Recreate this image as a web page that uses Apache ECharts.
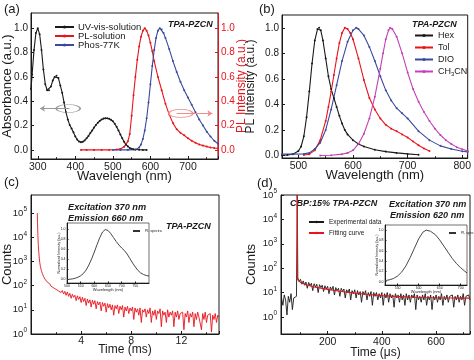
<!DOCTYPE html>
<html><head><meta charset="utf-8">
<script src="https://cdn.jsdelivr.net/npm/echarts@6/dist/echarts.min.js"></script>
<style>html,body{margin:0;padding:0;background:#fff}#c{width:474px;height:360px}</style>
</head><body><div id="c"></div><script>
// ---------- (a) ----------
const uvWl  = [282,285,290,295,300,305,310,315,320,325,330,335,340,345,350,355,360,365,370,375,380,385,390,395,400,405,410,415,420,425,430,435,440,445,450,455,460,465,470,475,480,485,490,495,500,505,510,515,520,525,530,535,540,545,550,555,560,570,580,590];
const uvAbs = [0.50,0.62,0.82,0.96,1.00,0.95,0.82,0.66,0.54,0.49,0.49,0.52,0.57,0.60,0.61,0.59,0.53,0.47,0.39,0.31,0.25,0.205,0.175,0.145,0.11,0.085,0.068,0.062,0.066,0.078,0.095,0.115,0.138,0.16,0.183,0.205,0.223,0.238,0.25,0.257,0.26,0.26,0.256,0.248,0.235,0.215,0.19,0.16,0.127,0.095,0.066,0.043,0.027,0.016,0.009,0.005,0.003,0.001,0,0];
const plWl  = [415,430,450,470,490,510,520,530,540,545,550,555,560,565,570,575,580,585,590,595,600,605,610,620,630,640,650,660,670,680,690,700,710,720,730,740,750,760,770,780];
const plInt = [0,0,0,0,0,0.003,0.008,0.025,0.07,0.13,0.28,0.45,0.60,0.74,0.85,0.93,0.98,1.0,0.98,0.94,0.88,0.81,0.73,0.60,0.49,0.38,0.29,0.22,0.17,0.14,0.12,0.095,0.075,0.058,0.045,0.035,0.027,0.02,0.015,0.012];
const phWl  = [500,520,540,560,570,575,580,585,590,595,600,605,610,615,620,625,630,635,640,650,660,670,680,690,700,710,720,730,740,750,760,770,780];
const phInt = [0,0,0,0.002,0.02,0.045,0.09,0.16,0.26,0.39,0.54,0.69,0.82,0.92,0.98,1.0,0.99,0.96,0.92,0.83,0.73,0.64,0.56,0.49,0.43,0.37,0.31,0.25,0.2,0.15,0.11,0.075,0.05];
const arrowL = [[385,0.34],[306,0.34]];
const ellL = [381,0.34];
const arrowR = [[670,0.30],[765,0.30]];
const ellR = [681,0.30];
// ---------- (b) ----------
const hexWl  = [470,480,490,500,505,510,515,520,525,530,535,538,541,545,550,555,560,565,570,575,580,585,590,600,610,620,640,660,680,700,720];
const hexInt = [0.002,0.004,0.01,0.035,0.07,0.15,0.3,0.5,0.72,0.9,0.99,1.0,0.98,0.9,0.76,0.62,0.52,0.45,0.38,0.31,0.25,0.2,0.165,0.12,0.09,0.07,0.045,0.03,0.02,0.012,0.006];
const tolWl  = [510,520,530,540,550,555,560,565,570,575,580,585,590,595,600,610,620,630,640,650,660,670,680,690,700,710,720,730,740];
const tolInt = [0.003,0.01,0.04,0.12,0.27,0.38,0.5,0.63,0.76,0.88,0.96,1.0,0.99,0.96,0.91,0.76,0.59,0.45,0.36,0.29,0.24,0.21,0.19,0.165,0.14,0.11,0.08,0.055,0.035];
const dioWl  = [470,490,510,520,530,540,550,560,570,580,590,600,606,610,620,630,640,650,660,670,680,690,700,720,740,760,780,800,810];
const dioInt = [0.01,0.01,0.012,0.02,0.05,0.1,0.2,0.36,0.55,0.74,0.89,0.98,1.0,0.99,0.94,0.85,0.74,0.62,0.51,0.43,0.37,0.33,0.29,0.19,0.12,0.075,0.05,0.033,0.028];
const chWl   = [540,560,580,590,600,610,620,630,640,650,655,660,665,668,672,680,690,700,710,720,730,740,750,760,770,780,790,800,810];
const chInt  = [0,0.002,0.01,0.02,0.04,0.09,0.17,0.29,0.46,0.68,0.8,0.91,0.98,1.0,0.99,0.93,0.8,0.65,0.52,0.42,0.34,0.27,0.21,0.16,0.12,0.09,0.065,0.048,0.036];
// ---------- (c) ----------
const decayT = [0.50,0.52,0.55,0.58,0.62,0.66,0.70,0.75,0.80,0.85,0.90,0.95,1.0,1.1,1.2,1.3,1.4,1.5,1.6,1.7,1.8,1.9,2.0,2.1,2.2,2.3,2.4,2.5,2.6,2.7,2.8,2.9,3.0,3.1,3.2,3.3,3.4,3.5,3.6,3.7,3.8,3.9,4.0,4.1,4.2,4.3,4.4,4.5,4.6,4.7,4.8,4.9,5.0,5.1,5.2,5.3,5.4,5.5,5.6,5.7,5.8,5.9,6.0,6.1,6.2,6.3,6.4,6.5,6.6,6.7,6.8,6.9,7.0,7.1,7.2,7.3,7.4,7.5,7.6,7.7,7.8,7.9,8.0,8.1,8.2,8.3,8.4,8.5,8.6,8.7,8.8,8.9,9.0,9.1,9.2,9.3,9.4,9.5,9.6,9.7,9.8,9.9,10.0,10.1,10.2,10.3,10.4,10.5,10.6,10.7,10.8,10.9,11.0,11.1,11.2,11.3,11.4,11.5,11.6,11.7,11.8,11.9,12.0,12.1,12.2,12.3,12.4,12.5,12.6,12.7,12.8,12.9,13.0,13.1,13.2,13.3,13.4,13.5,13.6,13.7,13.8,13.9,14.0,14.1,14.2,14.3,14.4,14.5,14.6,14.7,14.8,14.9,15.0];
const decayC = [100000,40000,12000,5000,2500,1400,900,620,480,390,320,280,240,190,175,140,150,118,95,110,82,90,70,78,60,72,52,63,45,58,40,55,36,48,30,44,33,40,24,38,27,35,20,33,22,30,15,28,19,26,13,25,17,24,11,22,16,21,9,20,14,19,8,18,12,17,10,16,6,15,11,16,7,14,10,15,5,13,9,14,7,12,9,13,4,12,8,11,6,12,3,10,8,11,5,10,7,12,3,9,6,10,4,9,7,11,2,9,6,8,3,10,5,8,6,9,2,8,5,9,4,7,6,8,1.5,7,5,9,3,7,5,8,2,7,4,8,5,6,1.5,7,4,8,3,6,5,7,1.2,6,4,7,3,6,5];
const insetCWl  = [500,510,520,530,540,550,560,570,580,590,600,610,620,630,640,650,660,670,680,690,700,710,720,730,740,750,760,770,780,790,800];
const insetCInt = [0.0,0.005,0.012,0.025,0.045,0.075,0.12,0.19,0.29,0.41,0.55,0.7,0.84,0.95,1.0,0.98,0.92,0.84,0.76,0.69,0.63,0.58,0.51,0.42,0.33,0.25,0.18,0.13,0.1,0.08,0.07];
// ---------- (d) ----------
const expT = [30,35,40,45,50,55,60,65,70,75,80,85,88,90,95,100,105,110,115,120,125,130,135,140,145,150,155,160,165,170,175,180,185,190,195,200,205,210,215,220,225,230,235,240,245,250,255,260,265,270,275,280,285,290,295,300,305,310,315,320,325,330,335,340,345,350,355,360,365,370,375,380,385,390,395,400,405,410,415,420,425,430,435,440,445,450,455,460,465,470,475,480,485,490,495,500,505,510,515,520,525,530,535,540,545,550,555,560,565,570,575,580,585,590,595,600,605,610,615,620,625,630,635,640,645,650,655,660,665,670,675,680,685,690,695,700,705,710,715,720,725];
const expC = [6,3,8,5,1.2,7,4,9,2,6,5,7,100000,40,28,35,22,30,20,27,15,26,19,24,12,23,17,22,10,21,16,20,11,19,14,18,9,17,13,18,8,16,12,15,7,15,11,14,6,13,10,14,5,12,9,13,6,12,8,11,4,11,8,12,5,10,7,11,3,10,7,10,5,9,6,10,3,9,6,10,4,9,6,8,2.5,9,6,8,4,9,5,8,3,9,5,8,4,8,6,9,2,8,5,7,4,8,5,9,3,7,5,8,2,7,5,8,4,7,5,9,3,7,5,8,4,7,6,8,2.5,7,5,8,4,7,5,9,3,7,6,8,5];
const fitT = [88,88.6,90,100,120,150,200,250,300,350,400,450,500,550,600,650,700,725];
const fitC = [100000,40,33,26,21,17,13.5,11,9.5,8.3,7.5,7,6.6,6.3,6.1,6,5.9,5.9];
const insetDWl  = [520,530,540,550,560,570,580,590,600,610,618,628,640,650,660,670,680,690,700,710,715];
const insetDInt = [0.02,0.035,0.06,0.11,0.19,0.31,0.47,0.65,0.83,0.96,1.0,0.98,0.91,0.81,0.69,0.57,0.45,0.35,0.27,0.2,0.17];

const zip = (a,b) => a.map((x,i)=>[x,b[i]]);
const FF = 'Liberation Sans, Arial, sans-serif';
const K = '#1a1a1a', RED = '#e8141c', BLUE = '#3b4a9c', MAG = '#c440b8';

function vAxis(o){
  const fs = o.fs || 10.5;
  return Object.assign({
    type:'value', splitLine:{show:false}, nameMoveOverlap:false,
    axisLine:{show:true, onZero:false, lineStyle:{color:o.color||K, width:1}},
    axisTick:{show:true, inside:true, length:o.tl||3, lineStyle:{color:o.color||K}},
    minorTick:{show:!!o.minor, splitNumber:2, length:(o.tl||3)*0.6, lineStyle:{color:o.color||K}},
    axisLabel:{fontSize:fs, fontFamily:FF, color:o.color||K, margin:o.margin||3,
      showMinLabel:o.showMin||false, showMaxLabel:false, formatter:o.fmt},
    nameLocation:'middle', nameTextStyle:{fontSize:o.nfs||13, fontFamily:FF, color:o.color||K}
  }, o.ext);
}
const f1 = v => v.toFixed(1);
const pow = v => '{b|10}{s|' + Math.round(Math.log10(v)) + '}';
const powRich = {b:{fontSize:9.5, fontFamily:FF, color:K}, s:{fontSize:6.5, fontFamily:FF, color:K, padding:[0,0,7,0]}};

const lineS = (name, xi, yi, data, color, opt) => Object.assign({
  type:'line', name, xAxisIndex:xi, yAxisIndex:yi, data,
  symbol:'circle', symbolSize:2, showSymbol:true,
  lineStyle:{color, width:1.1}, itemStyle:{color}, animation:false
}, opt||{});

const chart = echarts.init(document.getElementById('c'), null, {renderer:'canvas'});
const gridBorder = {show:true, borderColor:K, borderWidth:1, backgroundColor:'transparent'};
chart.setOption({
  animation:false,
  textStyle:{fontFamily:FF},
  grid:[
    Object.assign({left:29, top:13, width:189, height:146}, gridBorder),
    Object.assign({left:282, top:15, width:190, height:143}, gridBorder),
    Object.assign({left:29, top:195, width:190, height:139}, gridBorder),
    Object.assign({left:281, top:195, width:189, height:139}, gridBorder),
    {show:true, borderColor:'#333', borderWidth:0.7, backgroundColor:'#fff', left:67, top:223, width:82, height:60, z:5},
    {show:true, borderColor:'#333', borderWidth:0.7, backgroundColor:'#fff', left:385, top:225, width:82, height:60, z:5}
  ],
  xAxis:[
    vAxis({ext:{gridIndex:0, min:282, max:780, splitNumber:5, name:'Wavelengh (nm)', nameGap:11}, minor:true}),
    vAxis({ext:{gridIndex:1, min:470, max:810, splitNumber:4, name:'Wavelength (nm)', nameGap:11}, minor:true}),
    vAxis({ext:{gridIndex:2, min:0, max:15, interval:4, name:'Time (ms)', nameGap:10}, minor:true, nfs:12, margin:2}),
    vAxis({ext:{gridIndex:3, min:28, max:725, splitNumber:3, name:'Time (\u03bcs)', nameGap:13}, minor:true, nfs:12}),
    vAxis({ext:{gridIndex:4, min:500, max:800, interval:50, name:'Wavelength (nm)', nameGap:5, z:6}, fs:3.5, nfs:4, tl:1.5, margin:1.5, showMin:true}),
    vAxis({ext:{gridIndex:5, min:520, max:715, splitNumber:4, name:'Wavelength (nm)', nameGap:5, z:6}, fs:3.5, nfs:4, tl:1.5, margin:1.5})
  ],
  yAxis:[
    vAxis({ext:{gridIndex:0, min:-0.075, max:1.125, splitNumber:6, name:'Absorbance (a.u.)', nameGap:17}, fmt:f1, fs:10}),
    vAxis({ext:{gridIndex:0, position:'right', min:-0.075, max:1.125, splitNumber:6, name:'PL Intensity (a.u.)', nameGap:18, nameRotate:90}, fmt:f1, color:RED, nfs:12, fs:10}),
    vAxis({ext:{gridIndex:1, min:-0.02, max:1.1, splitNumber:6, name:'PL Intensity (a.u.)', nameGap:25}, fmt:f1, nfs:12, fs:10}),
    Object.assign(vAxis({ext:{gridIndex:2, type:'log', logBase:10, min:1, max:562341, splitNumber:6, name:'Counts', nameGap:17}}),
      {axisLabel:{formatter:pow, rich:powRich, margin:4, showMinLabel:true, showMaxLabel:false}}),
    Object.assign(vAxis({ext:{gridIndex:3, type:'log', logBase:10, min:0.2, max:100000, splitNumber:5, name:'Counts', nameGap:23}}),
      {axisLabel:{formatter:pow, rich:powRich, margin:4, showMinLabel:false, showMaxLabel:true}}),
    vAxis({ext:{gridIndex:4, min:-0.07, max:1.13, splitNumber:6, name:'Normalized Intensity (a.u.)', nameGap:6, z:6}, fmt:f1, fs:3.5, nfs:3.5, tl:1.5, margin:1.5}),
    vAxis({ext:{gridIndex:5, min:-0.065, max:1.1, splitNumber:6, name:'Normalized Intensity (a.u.)', nameGap:6, z:6}, fmt:f1, fs:3.5, nfs:3.5, tl:1.5, margin:1.5})
  ],
  legend:[
    {data:['UV-vis-solution','PL-solution','Phos-77K'], orient:'vertical', left:49, top:17, itemWidth:19, itemHeight:4, itemGap:-1,
     textStyle:{fontSize:9.5, fontFamily:FF, color:K, lineHeight:10, padding:[0,0,0,-1]}},
    {data:['Hex','Tol','DIO','CH3CN'], orient:'vertical', left:409, top:25, itemWidth:18, itemHeight:4, itemGap:1,
     formatter: n => n === 'CH3CN' ? 'CH{sub|3}CN' : n,
     textStyle:{fontSize:9, fontFamily:FF, color:K, lineHeight:11, rich:{sub:{fontSize:6, fontFamily:FF, padding:[5,0,0,0]}}}},
    {data:['Experimental data','Fitting curve'], orient:'vertical', left:303, top:212, itemWidth:15, itemHeight:3, itemGap:1,
     textStyle:{fontSize:6.5, fontFamily:FF, color:K, lineHeight:10}},
    {data:['PL spectra'], left:127, top:224, itemWidth:7, itemHeight:2, itemGap:0, z:8,
     textStyle:{fontSize:3.5, fontFamily:FF, color:K}},
    {data:['PL spectra '], left:443, top:226, itemWidth:7, itemHeight:2, itemGap:0, z:8,
     textStyle:{fontSize:3.5, fontFamily:FF, color:K}}
  ],
  series:[
    lineS('UV-vis-solution', 0, 0, zip(uvWl, uvAbs), K, {
      markLine:{silent:true, symbol:['none','arrow'], symbolSize:5, label:{show:false},
        lineStyle:{color:'#999', width:1, type:'solid'},
        data:[[{coord:arrowL[0]},{coord:arrowL[1]}]]},
      markPoint:{silent:true, symbol:'circle', symbolSize:[24,8], label:{show:false},
        itemStyle:{color:'rgba(0,0,0,0)', borderColor:'#999', borderWidth:1},
        data:[{coord:ellL}]}
    }),
    lineS('PL-solution', 0, 1, zip(plWl, plInt), RED, {
      markLine:{silent:true, symbol:['none','arrow'], symbolSize:5, label:{show:false},
        lineStyle:{color:'#f08c8c', width:1, type:'solid'},
        data:[[{coord:arrowR[0]},{coord:arrowR[1]}]]},
      markPoint:{silent:true, symbol:'circle', symbolSize:[24,8], label:{show:false},
        itemStyle:{color:'rgba(0,0,0,0)', borderColor:'#f08c8c', borderWidth:1},
        data:[{coord:ellR}]}
    }),
    lineS('Phos-77K', 0, 1, zip(phWl, phInt), BLUE),
    lineS('Hex', 1, 2, zip(hexWl, hexInt), K),
    lineS('Tol', 1, 2, zip(tolWl, tolInt), RED),
    lineS('DIO', 1, 2, zip(dioWl, dioInt), BLUE),
    lineS('CH3CN', 1, 2, zip(chWl, chInt), MAG),
    {type:'line', name:'decay', xAxisIndex:2, yAxisIndex:3, data:zip(decayT, decayC), showSymbol:false, symbol:'none',
     lineStyle:{color:RED, width:0.9}, animation:false},
    {type:'line', name:'Experimental data', xAxisIndex:3, yAxisIndex:4, data:zip(expT, expC), showSymbol:false, symbol:'none',
     lineStyle:{color:K, width:0.9}, itemStyle:{color:K}, animation:false},
    {type:'line', name:'Fitting curve', xAxisIndex:3, yAxisIndex:4, data:zip(fitT, fitC), showSymbol:false, symbol:'none',
     lineStyle:{color:RED, width:1.1}, itemStyle:{color:RED}, animation:false, z:3},
    {type:'line', name:'PL spectra', xAxisIndex:4, yAxisIndex:5, data:zip(insetCWl, insetCInt), showSymbol:false, symbol:'none',
     lineStyle:{color:'#333', width:0.9}, itemStyle:{color:'#333'}, z:7, animation:false},
    {type:'line', name:'PL spectra ', xAxisIndex:5, yAxisIndex:6, data:zip(insetDWl, insetDInt), showSymbol:false, symbol:'none',
     lineStyle:{color:'#333', width:0.9}, itemStyle:{color:'#333'}, z:7, animation:false}
  ],
  graphic:[
    {type:'text', x:4, y:9, style:{text:'(a)', fontSize:13, fontFamily:FF, fill:K, verticalAlign:'middle'}},
    {type:'text', x:259, y:9, style:{text:'(b)', fontSize:13, fontFamily:FF, fill:K, verticalAlign:'middle'}},
    {type:'text', x:4, y:182, style:{text:'(c)', fontSize:13, fontFamily:FF, fill:K, verticalAlign:'middle'}},
    {type:'text', x:257, y:183, style:{text:'(d)', fontSize:13, fontFamily:FF, fill:K, verticalAlign:'middle'}},
    {type:'text', x:168, y:25, style:{text:'TPA-PZCN', fontSize:9, fontWeight:'bold', fontStyle:'italic', fontFamily:FF, fill:K, verticalAlign:'middle'}},
    {type:'text', x:412, y:25, style:{text:'TPA-PZCN', fontSize:9, fontWeight:'bold', fontStyle:'italic', fontFamily:FF, fill:K, verticalAlign:'middle'}},
    {type:'text', x:68, y:207, style:{text:'Excitation 370 nm', fontSize:9.2, fontWeight:'bold', fontStyle:'italic', fontFamily:FF, fill:K, verticalAlign:'middle'}},
    {type:'text', x:68, y:218, style:{text:'Emission 660 nm', fontSize:9.2, fontWeight:'bold', fontStyle:'italic', fontFamily:FF, fill:K, verticalAlign:'middle'}},
    {type:'text', x:166, y:227, style:{text:'TPA-PZCN', fontSize:9, fontWeight:'bold', fontStyle:'italic', fontFamily:FF, fill:K, verticalAlign:'middle'}},
    {type:'text', x:290, y:204, style:{text:'CBP:15% TPA-PZCN', fontSize:9, fontWeight:'bold', fontStyle:'italic', fontFamily:FF, fill:K, verticalAlign:'middle'}},
    {type:'text', x:389, y:204, style:{text:'Excitation 370 nm', fontSize:9.1, fontWeight:'bold', fontStyle:'italic', fontFamily:FF, fill:K, verticalAlign:'middle'}},
    {type:'text', x:390, y:215, style:{text:'Emission 620 nm', fontSize:9.1, fontWeight:'bold', fontStyle:'italic', fontFamily:FF, fill:K, verticalAlign:'middle'}}
  ]
});
</script></body></html>
